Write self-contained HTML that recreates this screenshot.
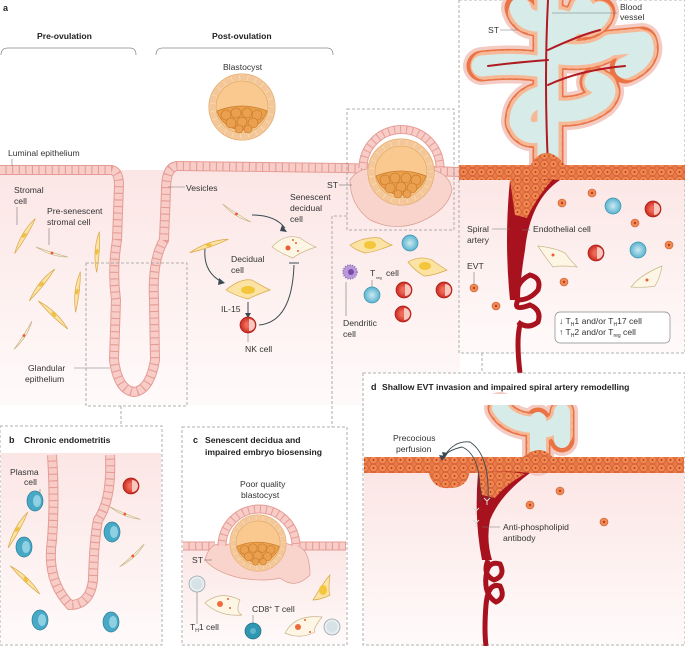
<!DOCTYPE html>
<html><head><meta charset="utf-8"><style>
html,body{margin:0;padding:0;background:#fff}
svg{display:block}
text{font-family:"Liberation Sans",sans-serif;font-size:8.6px;fill:#333}
.b{font-weight:bold;fill:#222;font-size:9px}
.dash{fill:none;stroke:#999;stroke-width:0.8;stroke-dasharray:3 2}
.ln{stroke:#777;stroke-width:0.6;fill:none}
.str{fill:#fbe3a4;stroke:#d9a747;stroke-width:0.7}
.crm{fill:#fdf6e4;stroke:#c9b488;stroke-width:0.7}
</style></head><body>
<svg width="685" height="646" viewBox="0 0 685 646" xmlns="http://www.w3.org/2000/svg">
<defs>
<linearGradient id="tis" x1="0" y1="0" x2="0" y2="1"><stop offset="0" stop-color="#fbe6e5"/><stop offset="1" stop-color="#fffafa"/></linearGradient>
<pattern id="cells" width="9" height="8" patternUnits="userSpaceOnUse">
<rect width="9" height="8" fill="#e9794a"/>
<circle cx="4.5" cy="4" r="3.8" fill="#f0884f" stroke="#c9542c" stroke-width="0.6"/><circle cx="4.5" cy="4" r="1" fill="#b8401f"/></pattern>
<radialGradient id="blu"><stop offset="0" stop-color="#cdeaf2"/><stop offset="1" stop-color="#5ab3cf"/></radialGradient>
<radialGradient id="red"><stop offset="0.3" stop-color="#f06a5a"/><stop offset="1" stop-color="#c9281e"/></radialGradient>
<path id="sk" d="M548 0 V165 M548 20 Q525 25 520 8 M548 68 Q520 62 482 66 M548 95 Q520 100 520 122 Q525 135 538 132 M548 40 Q575 30 583 8 M560 20 Q595 30 600 12 M548 52 Q590 60 610 45 L642 42 Q648 58 625 68 M548 110 Q580 115 600 100 Q612 88 595 82"/>
<path id="sd" d="M538 460 V420 M538 425 Q510 425 500 408 M538 430 Q560 430 562 412 M562 412 L562 440"/>
<g id="blast">
<circle r="33" fill="#f8d7a8" stroke="#e3a866" stroke-width="1"/>
<circle r="30" fill="none" stroke="#f3c79a" stroke-width="6" stroke-dasharray="7 1.2"/>
<circle r="26" fill="#f9c98f" stroke="#e3a866" stroke-width="0.8"/>
<path d="M-25 4 Q0 -6 25 4 A26 26 0 0 1 -25 4Z" fill="#eba04a" stroke="#c97a2c" stroke-width="0.7"/>
<g fill="#eaa04e" stroke="#c27628" stroke-width="0.6"><circle cx="-16" cy="8" r="5"/><circle cx="-6" cy="6" r="5"/><circle cx="5" cy="6" r="5"/><circle cx="15" cy="8" r="5"/><circle cx="-11" cy="16" r="5"/><circle cx="0" cy="15" r="5"/><circle cx="11" cy="16" r="5"/><circle cx="-3" cy="22" r="4"/><circle cx="6" cy="22" r="4"/></g>
</g>
<g id="stro"><path d="M-20 4 Q0 -6 20 -4 Q2 2 -20 4Z" class="str"/><ellipse cx="0" cy="-1" rx="3" ry="1.6" fill="#f2c13c"/></g>
<g id="pres"><path d="M-16 -4 Q0 2 16 6 Q0 6 -16 -4Z" class="crm"/><circle cx="0" cy="2" r="1.4" fill="#ee5a32"/></g>
<g id="bc"><circle r="8" fill="url(#blu)" stroke="#3f94b0" stroke-width="0.7"/></g>
<g id="rc"><circle r="8" fill="url(#red)" stroke="#a61f18" stroke-width="0.7"/><path d="M1 -6 A6 6 0 0 1 1 6Z" fill="#f6c8c0"/></g>
<g id="pc"><ellipse rx="8" ry="10" fill="#48a9c6" stroke="#2a7d97" stroke-width="0.7"/><ellipse cx="2" rx="4" ry="6" fill="#8fd0e2"/></g>
<g id="ev"><circle r="4" fill="#f08a55" stroke="#c9542c" stroke-width="0.6"/><circle r="1.2" fill="#b8401f"/></g>
</defs>

<!-- panel a tissue -->
<rect x="0" y="170" width="460" height="235" fill="url(#tis)"/>
<path d="M0 170 L112 170 Q119 172 119 185 L117 240 Q112 270 116 300 L114 360 Q118 390 134 392 Q150 390 155 360 L154 300 Q152 260 164 240 L166 190 Q166 166 178 166 L345 168 L460 172" fill="none" stroke="#e59c96" stroke-width="10"/>
<path d="M0 170 L112 170 Q119 172 119 185 L117 240 Q112 270 116 300 L114 360 Q118 390 134 392 Q150 390 155 360 L154 300 Q152 260 164 240 L166 190 Q166 166 178 166 L345 168 L460 172" fill="none" stroke="#f8cdc8" stroke-width="8" stroke-dasharray="5.5 1.1"/>

<text x="3" y="11" class="b">a</text>
<text x="37" y="39" class="b" style="font-size:8.6px">Pre-ovulation</text>
<text x="212" y="39" class="b" style="font-size:8.6px">Post-ovulation</text>
<path d="M1 55 Q1 48 8 48 L130 48 Q136 48 136 55 M156 55 Q156 48 163 48 L327 48 Q333 48 333 55" fill="none" stroke="#888" stroke-width="0.7"/>
<text x="223" y="70">Blastocyst</text>
<use href="#blast" x="242" y="107"/>
<text x="8" y="156">Luminal epithelium</text><path class="ln" d="M12 159 V166"/>
<text x="14" y="193">Stromal</text><text x="14" y="204">cell</text>
<text x="47" y="214">Pre-senescent</text><text x="47" y="225">stromal cell</text>
<path class="ln" d="M17 207 V225 M49 228 V245"/>
<use href="#stro" transform="translate(25,236) rotate(-48)"/>
<use href="#pres" x="52" y="251"/>
<use href="#stro" transform="translate(98,252) rotate(-75)"/>
<use href="#stro" transform="translate(42,285) rotate(-40)"/>
<use href="#stro" transform="translate(78,292) rotate(-72)"/>
<use href="#stro" transform="translate(53,315) rotate(55)"/>
<use href="#pres" transform="translate(22,335) rotate(-75)"/>
<text x="28" y="371">Glandular</text><text x="25" y="382">epithelium</text>
<path class="ln" d="M74 368 H110"/>
<text x="186" y="191">Vesicles</text><path class="ln" d="M168 187 H185"/>
<use href="#pres" transform="translate(237,212) rotate(15)"/>
<use href="#stro" transform="translate(209,246) rotate(-8)"/>
<text x="290" y="200">Senescent</text><text x="290" y="211">decidual</text><text x="290" y="222">cell</text>
<path d="M272 247 Q285 233 300 238 Q310 245 316 247 Q300 252 293 258 Q282 254 272 247Z" class="crm"/>
<circle cx="288" cy="248" r="2.5" fill="#ee5a32"/><circle cx="296" cy="243" r="1" fill="#ee5a32"/><circle cx="298" cy="251" r="1" fill="#ee5a32"/><circle cx="293" cy="240" r="1" fill="#ee5a32"/>
<text x="231" y="262">Decidual</text><text x="231" y="273">cell</text>
<path d="M226 290 Q240 278 252 280 Q262 286 270 290 Q256 295 248 299 Q236 296 226 290Z" class="str"/><ellipse cx="248" cy="290" rx="7" ry="4" fill="#f4c63c"/>
<path d="M205 249 Q203 272 222 282" fill="none" stroke="#3a4a50" stroke-width="1"/><path d="M219 278 L225 283 L218 285Z" fill="#3a4a50"/>
<path d="M252 215 Q275 215 285 228" fill="none" stroke="#3a4a50" stroke-width="1"/><path d="M282 225 L287 232 L280 231Z" fill="#3a4a50"/>
<text x="221" y="312">IL-15</text><path d="M248 302 V315" stroke="#3a4a50" stroke-width="1"/><path d="M245 313 L248 318 L251 313Z" fill="#3a4a50"/>
<use href="#rc" x="248" y="325"/>
<text x="245" y="352">NK cell</text><path class="ln" d="M248 333 V342"/>
<path d="M259 325 Q292 322 294 265" fill="none" stroke="#3a4a50" stroke-width="1"/><path d="M289 263 H299" stroke="#3a4a50" stroke-width="1"/>

<!-- ST implanting -->
<path d="M350 180 Q360 165 380 170 Q400 160 425 168 Q450 172 452 190 Q448 210 420 222 Q395 232 370 220 Q350 205 350 180Z" fill="#f8d4cc" stroke="#d99d90" stroke-width="0.7"/>
<path d="M363 168 A38 38 0 0 1 440 168" fill="none" stroke="#e59c96" stroke-width="9"/>
<path d="M363 168 A38 38 0 0 1 440 168" fill="none" stroke="#f8cdc8" stroke-width="7" stroke-dasharray="5 1"/>
<use href="#blast" x="401" y="172"/>
<text x="327" y="188">ST</text><path class="ln" d="M339 185 H352"/>
<rect x="347" y="109" width="107" height="121" class="dash"/>
<path class="dash" d="M347 216 H332 V427"/>
<path d="M350 245 Q365 236 380 238 Q388 244 392 245 Q375 252 365 253 Q355 250 350 245Z" class="str"/><ellipse cx="370" cy="245" rx="6" ry="4" fill="#f4c63c"/>
<use href="#bc" x="410" y="243"/>
<path d="M408 262 Q420 255 432 260 Q440 266 447 270 Q432 276 424 276 Q414 270 408 262Z" class="str"/><ellipse cx="425" cy="266" rx="6" ry="4" fill="#f4c63c"/>
<circle cx="350" cy="272" r="7" fill="#b89ad9" stroke="#8a68b8" stroke-width="1.5" stroke-dasharray="1 1.5"/><circle cx="351" cy="272" r="3" fill="#7a4aa8"/>
<use href="#bc" x="372" y="295"/><path class="ln" d="M372 287 V280"/>
<text x="370" y="276">T</text><text x="376" y="279" style="font-size:4px">reg</text><text x="386" y="276">cell</text>
<use href="#rc" x="404" y="290"/><use href="#rc" x="444" y="290"/><use href="#rc" x="403" y="314"/>
<text x="343" y="326">Dendritic</text><text x="343" y="337">cell</text><path class="ln" d="M346 282 V316"/>
<rect x="86" y="263" width="101" height="143" class="dash"/>
<path class="dash" d="M121 406 V426"/>

<!-- right top panel -->
<rect x="459" y="172" width="226" height="181" fill="url(#tis)"/>
<rect x="459" y="0" width="226" height="353" class="dash"/>
<g fill="none" stroke-linecap="round" stroke-linejoin="round">
<use href="#sk" stroke="#f4cbc2" stroke-width="38"/>
<use href="#sk" stroke="#ea7446" stroke-width="31"/>
<use href="#sk" stroke="#f6b998" stroke-width="28" stroke-dasharray="1 6"/>
<use href="#sk" stroke="#d7ece8" stroke-width="21"/>
<path d="M548 0 Q544 80 548 165 M548 60 Q520 62 488 66 M548 50 Q580 35 600 30 M548 85 Q580 70 625 66" stroke="#b01a22" stroke-width="2"/>
</g>
<rect x="459" y="165" width="226" height="15" fill="url(#cells)"/>
<path d="M530 166 Q545 140 565 165Z" fill="url(#cells)"/>
<path d="M510 180 Q532 178 560 180 Q530 200 525 250 Q520 280 520 300 L510 300 Q504 240 510 180Z" fill="#a8121e"/>
<path d="M510 180 Q535 178 552 180 Q535 200 527 218 L515 215Z" fill="url(#cells)"/>
<path d="M516 300 Q515 282 530 275 Q542 278 538 290 Q530 300 518 300 Q512 312 530 305 Q542 310 538 322 Q528 330 518 322 M520 325 Q516 340 520 373" fill="none" stroke="#a8121e" stroke-width="5"/>
<text x="620" y="10">Blood</text><text x="620" y="20">vessel</text><path class="ln" d="M552 13 H617"/>
<text x="488" y="33">ST</text><path class="ln" d="M500 30 H518"/>
<text x="467" y="232">Spiral</text><text x="467" y="243">artery</text><path class="ln" d="M492 229 H510"/>
<text x="533" y="232">Endothelial cell</text><path class="ln" d="M522 230 H530"/>
<text x="467" y="269">EVT</text><path class="ln" d="M474 272 V284"/>
<use href="#ev" x="474" y="288"/><use href="#ev" x="496" y="306"/><use href="#ev" x="564" y="282"/><use href="#ev" x="592" y="193"/><use href="#ev" x="562" y="203"/><use href="#ev" x="635" y="223"/><use href="#ev" x="669" y="245"/>
<use href="#bc" x="613" y="206"/><use href="#bc" x="638" y="250"/><use href="#rc" x="653" y="209"/><use href="#rc" x="596" y="253"/>
<path d="M538 246 Q555 248 565 253 Q570 260 577 267 Q560 265 553 267 Q545 257 538 246Z" class="crm"/><circle cx="553" cy="255" r="1.5" fill="#ee5a32"/>
<path d="M631 287 Q640 275 662 266 Q660 278 655 286 Q645 288 631 287Z" class="crm"/><circle cx="647" cy="280" r="1.5" fill="#ee5a32"/>
<rect x="555" y="312" width="115" height="31" rx="5" fill="#fff" stroke="#888" stroke-width="0.7"/>
<text x="559" y="324">↓ T<tspan style="font-size:5px" dy="2">H</tspan><tspan dy="-2">1 and/or T</tspan><tspan style="font-size:5px" dy="2">H</tspan><tspan dy="-2">17 cell</tspan></text>
<text x="559" y="335">↑ T<tspan style="font-size:5px" dy="2">H</tspan><tspan dy="-2">2 and/or T</tspan><tspan style="font-size:5px" dy="2">reg</tspan><tspan dy="-2"> cell</tspan></text>
<path class="dash" d="M482 353 V373"/>

<!-- panel d -->
<rect x="363" y="373" width="322" height="273" fill="#fff"/>
<rect x="364" y="470" width="320" height="175" fill="url(#tis)"/>
<rect x="363" y="373" width="322" height="272" class="dash"/>
<text x="371" y="390" class="b">d</text><text x="382" y="390" class="b" style="font-size:8.6px">Shallow EVT invasion and impaired spiral artery remodelling</text>
<g fill="none" stroke-linecap="round">
<use href="#sd" stroke="#f4cbc2" stroke-width="32"/>
<use href="#sd" stroke="#ea7446" stroke-width="25"/>
<use href="#sd" stroke="#f6b998" stroke-width="22" stroke-dasharray="1 6"/>
<use href="#sd" stroke="#d7ece8" stroke-width="16"/>
</g>
<rect x="464" y="394" width="120" height="11" fill="#fff"/>
<rect x="364" y="457" width="320" height="16" fill="url(#cells)"/>
<path d="M428 470 Q432 490 450 488 Q468 488 470 470Z" fill="url(#cells)"/>
<path d="M520 460 Q540 440 555 460Z" fill="url(#cells)"/>
<path d="M478 473 Q505 470 530 473 Q500 495 490 520 Q486 540 492 560 L482 560 Q474 520 478 473Z" fill="#a8121e"/>
<path d="M478 473 Q505 470 525 474 Q505 485 495 498 L482 495Z" fill="url(#cells)"/>
<path d="M488 560 Q482 575 494 580 Q506 576 500 564 Q488 560 486 576 Q484 595 496 602 Q506 598 500 586 Q488 582 486 605 Q484 630 486 646" fill="none" stroke="#a8121e" stroke-width="5"/>
<path d="M488 500 Q490 455 470 442 Q455 440 445 455 M480 502 Q482 455 462 447 Q448 450 442 458" fill="none" stroke="#3a4a50" stroke-width="0.9"/>
<path d="M442 452 L444 459 L448 453Z M439 455 L442 461 L446 456Z" fill="#3a4a50"/>
<text x="393" y="441">Precocious</text><text x="396" y="452">perfusion</text>
<text x="503" y="530">Anti-phospholipid</text><text x="503" y="541">antibody</text><path class="ln" d="M482 527 H500"/>
<path d="M473 520 l3 3 l3 -3 M476 523 v4 M473 508 l3 3 l3 -3 M476 511 v4 M484 498 l3 3 l3 -3 M487 501 v4" stroke="#ddd" stroke-width="1" fill="none"/>
<use href="#ev" x="560" y="491"/><use href="#ev" x="530" y="505"/><use href="#ev" x="604" y="522"/>

<!-- panel b -->
<rect x="0" y="426" width="162" height="219" class="dash"/>
<text x="9" y="443" class="b">b</text><text x="24" y="443" class="b" style="font-size:8.6px">Chronic endometritis</text>
<rect x="1" y="453" width="160" height="191" fill="url(#tis)"/>
<path d="M52 455 Q55 500 52 540 Q46 580 70 605 Q90 605 93 580 Q94 540 98 520 Q112 500 110 455" fill="none" stroke="#e59c96" stroke-width="10"/>
<path d="M52 455 Q55 500 52 540 Q46 580 70 605 Q90 605 93 580 Q94 540 98 520 Q112 500 110 455" fill="none" stroke="#f8cdc8" stroke-width="8" stroke-dasharray="5.5 1.1"/>
<text x="10" y="475">Plasma</text><text x="24" y="485">cell</text><path class="ln" d="M40 489 V497"/>
<use href="#pc" x="35" y="501"/><use href="#pc" x="24" y="547"/><use href="#pc" x="112" y="532"/><use href="#pc" x="40" y="620"/><use href="#pc" x="111" y="622"/>
<use href="#rc" x="131" y="486"/>
<use href="#stro" transform="translate(18,530) rotate(-50)"/>
<use href="#stro" transform="translate(25,580) rotate(55)"/>
<use href="#pres" transform="translate(125,512) rotate(5)"/>
<use href="#pres" transform="translate(131,555) rotate(-60)"/>

<!-- panel c -->
<rect x="182" y="427" width="165" height="218" class="dash"/>
<text x="193" y="443" class="b">c</text><text x="205" y="443" class="b" style="font-size:8.6px">Senescent decidua and</text>
<text x="205" y="455" class="b" style="font-size:8.6px">impaired embryo biosensing</text>
<rect x="183" y="548" width="163" height="96" fill="url(#tis)"/>
<path d="M183 546 H215 M300 546 H346" stroke="#e59c96" stroke-width="9"/>
<path d="M183 546 H215 M300 546 H346" stroke="#f8cdc8" stroke-width="7" stroke-dasharray="5.5 1.1"/>
<path d="M205 560 Q210 540 225 545 Q258 535 292 545 Q310 545 310 575 Q295 590 280 578 Q265 582 240 578 Q215 572 205 560Z" fill="#f8d4cc" stroke="#d99d90" stroke-width="0.7"/>
<path d="M222 546 A37 37 0 0 1 296 546" fill="none" stroke="#e59c96" stroke-width="9"/>
<path d="M222 546 A37 37 0 0 1 296 546" fill="none" stroke="#f8cdc8" stroke-width="7" stroke-dasharray="5 1"/>
<use href="#blast" transform="translate(258,543) scale(0.85)"/>
<text x="240" y="487">Poor quality</text><text x="241" y="498">blastocyst</text>
<text x="192" y="563">ST</text><path class="ln" d="M204 560 H212"/>
<circle cx="197" cy="584" r="8" fill="#e8eef0" stroke="#98a6ab" stroke-width="0.8"/><circle cx="197" cy="584" r="5.5" fill="#d6e2e6"/>
<path class="ln" d="M197 592 V624"/><text x="190" y="630">T<tspan style="font-size:5px" dy="2">H</tspan><tspan dy="-2">1 cell</tspan></text>
<path d="M205 603 Q220 590 240 600 Q235 612 242 615 Q220 617 205 603Z" class="crm"/><circle cx="220" cy="604" r="3" fill="#ee6a3f"/><circle cx="228" cy="599" r="1" fill="#ee5a32"/><circle cx="230" cy="608" r="1" fill="#ee5a32"/>
<text x="252" y="612">CD8<tspan style="font-size:5px" dy="-3">+</tspan><tspan dy="3"> T cell</tspan></text>
<path class="ln" d="M253 615 V625"/>
<circle cx="253" cy="631" r="8" fill="#2f97b0" stroke="#1e7086" stroke-width="0.7"/><circle cx="253" cy="631" r="3" fill="#5fb6cb"/>
<path d="M313 600 Q325 580 330 575 Q328 590 330 595 Q320 600 313 600Z" class="str"/><ellipse cx="323" cy="590" rx="4" ry="5" fill="#f4c63c"/>
<path d="M285 633 Q295 614 322 617 Q312 630 315 632 Q300 640 285 633Z" class="crm"/><circle cx="298" cy="627" r="3" fill="#ee6a3f"/><circle cx="305" cy="620" r="1" fill="#ee5a32"/><circle cx="310" cy="632" r="1" fill="#ee5a32"/>
<circle cx="332" cy="627" r="8" fill="#e8eef0" stroke="#98a6ab" stroke-width="0.8"/><circle cx="332" cy="627" r="5.5" fill="#d6e2e6"/>
</svg>
</body></html>
